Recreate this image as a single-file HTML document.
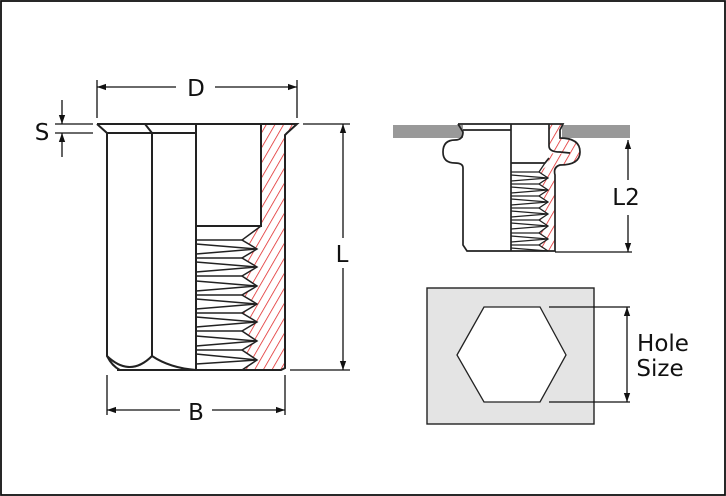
<!DOCTYPE html>
<html><head><style>html,body{margin:0;padding:0;background:#fff}svg{display:block}</style></head><body>
<svg width="726" height="496" viewBox="0 0 726 496" xmlns="http://www.w3.org/2000/svg" font-family="'DejaVu Sans','Liberation Sans',sans-serif">
<defs>
<pattern id="h" patternUnits="userSpaceOnUse" width="7.5" height="7.5" patternTransform="rotate(30)">
<rect width="7.5" height="7.5" fill="#fff"/><line x1="0" y1="0" x2="0" y2="7.5" stroke="#e02020" stroke-width="1.5"/>
</pattern>
<marker id="a" viewBox="0 0 10 10" refX="10" refY="5" markerWidth="9" markerHeight="9" orient="auto-start-reverse" markerUnits="userSpaceOnUse"><path d="M0,1.5 L10,5 L0,8.5z" fill="#111"/></marker>
</defs>
<rect x="1" y="1" width="724" height="494" fill="#fff" stroke="#111" stroke-width="1.8"/>
<g stroke="#222" stroke-width="2" fill="none">
<path d="M261,124 L297,124 L285,135 L285,368 L281,370 L242,370 L257,360 L242,350 L257,341 L242,331 L257,322 L242,313 L257,304 L242,295 L257,286 L242,276 L257,267 L242,258 L257,249 L242,240 L261,226 Z" fill="url(#h)" stroke="none"/>
<path d="M97,124 L297,124 L287,133 L285,135 L285,368 L281,370 L117,370"/>
<path d="M97,124 L107,133 L107,356 Q112,366 120,370"/>
<path d="M107,356 Q130,378 152,356 Q170,368 196,370"/>
<path d="M145,124 L152,133 L152,356"/>
<path d="M107,133 L196,133"/>
<path d="M196,124 L196,370"/>
<path d="M261,124 L261,226 L196,226"/>
<path d="M261,226 L242,240 L257,249 L242,258 L257,267 L242,276 L257,286 L242,295 L257,304 L242,313 L257,322 L242,331 L257,341 L242,350 L257,360 L242,370" stroke-width="1.5"/>
<g stroke-width="1.5">
<path d="M196,240 L242,240 M196,244 L257,249 M196,254 L257,249"/>
<path d="M196,258 L242,258 M196,262 L257,267 M196,272 L257,267"/>
<path d="M196,276 L242,276 M196,281 L257,286 M196,291 L257,286"/>
<path d="M196,295 L242,295 M196,299 L257,304 M196,309 L257,304"/>
<path d="M196,313 L242,313 M196,317 L257,322 M196,327 L257,322"/>
<path d="M196,331 L242,331 M196,336 L257,341 M196,346 L257,341"/>
<path d="M196,350 L242,350 M196,354 L257,360 M196,364 L257,360"/>
</g>
</g>
<g stroke="#111" stroke-width="1.3" fill="none">
<line x1="97" y1="80" x2="97" y2="118"/><line x1="297" y1="80" x2="297" y2="118"/>
<line x1="97" y1="87" x2="176" y2="87" marker-start="url(#a)"/><line x1="215" y1="87" x2="297" y2="87" marker-end="url(#a)"/>
<line x1="55" y1="124" x2="93" y2="124"/><line x1="55" y1="133" x2="93" y2="133"/>
<line x1="62" y1="100" x2="62" y2="124" marker-end="url(#a)"/><line x1="62" y1="157" x2="62" y2="133" marker-end="url(#a)"/>
<line x1="303" y1="124" x2="350" y2="124"/><line x1="290" y1="370" x2="350" y2="370"/>
<line x1="343" y1="124" x2="343" y2="238" marker-start="url(#a)"/><line x1="343" y1="268" x2="343" y2="370" marker-end="url(#a)"/>
<line x1="107" y1="375" x2="107" y2="415"/><line x1="285" y1="375" x2="285" y2="415"/>
<line x1="107" y1="410" x2="180" y2="410" marker-start="url(#a)"/><line x1="212" y1="410" x2="285" y2="410" marker-end="url(#a)"/>
</g>
<g font-size="23" fill="#111" text-anchor="middle">
<text x="196" y="96">D</text><text x="42" y="140">S</text><text x="342" y="262">L</text><text x="196" y="420">B</text>
<text x="626" y="205">L2</text>
<text x="663" y="351">Hole</text><text x="660" y="376">Size</text>
</g>
<rect x="393" y="125" width="70" height="13" fill="#999"/>
<rect x="562" y="125" width="68" height="13" fill="#999"/>
<g stroke="#222" stroke-width="1.7" fill="none">
<path d="M549,124 L563,124 L560,130 L560,138 Q580,138 580,152 Q580,165 560,165 Q553,167 555,175 L555,251 L545,251 L539,245 L548,239 L539,233 L548,226 L539,220 L548,214 L539,208 L548,202 L539,196 L548,190 L539,184 L548,178 L539,172 L548,165 L549,158 Q549,150 565,155 L549,148 Z" fill="url(#h)" stroke="none"/>
<path d="M458,124 L563,124 L560,130 L560,138 Q580,138 580,152 Q580,165 560,165 Q553,167 555,175 L555,251 L467,251 L463,245 L463,168 Q463,163 455,163 Q443,163 443,152 Q443,140 455,140 Q463,140 463,132 L458,124"/>
<path d="M463,130 L511,130"/>
<path d="M511,124 L511,251"/>
<path d="M549,124 L549,146 Q549,152 560,152 L570,153"/>
<path d="M511,163 L545,163 L549,158"/>
<path d="M545,163 L539,172 L548,178 L539,184 L548,190 L539,196 L548,202 L539,208 L548,214 L539,220 L548,226 L539,233 L548,239 L539,245 L548,251" stroke-width="1.3"/>
<g stroke-width="1.3">
<path d="M511,172 L539,172 M511,175 L548,178 M511,181 L548,178"/>
<path d="M511,184 L539,184 M511,187 L548,190 M511,193 L548,190"/>
<path d="M511,196 L539,196 M511,199 L548,202 M511,205 L548,202"/>
<path d="M511,208 L539,208 M511,211 L548,214 M511,217 L548,214"/>
<path d="M511,220 L539,220 M511,223 L548,226 M511,229 L548,226"/>
<path d="M511,233 L539,233 M511,236 L548,239 M511,242 L548,239"/>
<path d="M511,245 L539,245 M511,248 L548,251"/>
</g>
</g>
<g stroke="#111" stroke-width="1.3" fill="none">
<line x1="555" y1="252" x2="632" y2="252"/>
<line x1="628" y1="140" x2="628" y2="180" marker-start="url(#a)"/><line x1="628" y1="215" x2="628" y2="252" marker-end="url(#a)"/>
</g>
<rect x="427" y="288" width="167" height="136" fill="#e4e4e4" stroke="#222" stroke-width="1.4"/>
<polygon points="457,355 484,307 540,307 566,355 540,402 484,402" fill="#fff" stroke="#222" stroke-width="1.3"/>
<g stroke="#111" stroke-width="1.3" fill="none">
<line x1="549" y1="307" x2="630" y2="307"/><line x1="549" y1="402" x2="630" y2="402"/>
<line x1="627" y1="307" x2="627" y2="402" marker-start="url(#a)" marker-end="url(#a)"/>
</g>
</svg>
</body></html>
